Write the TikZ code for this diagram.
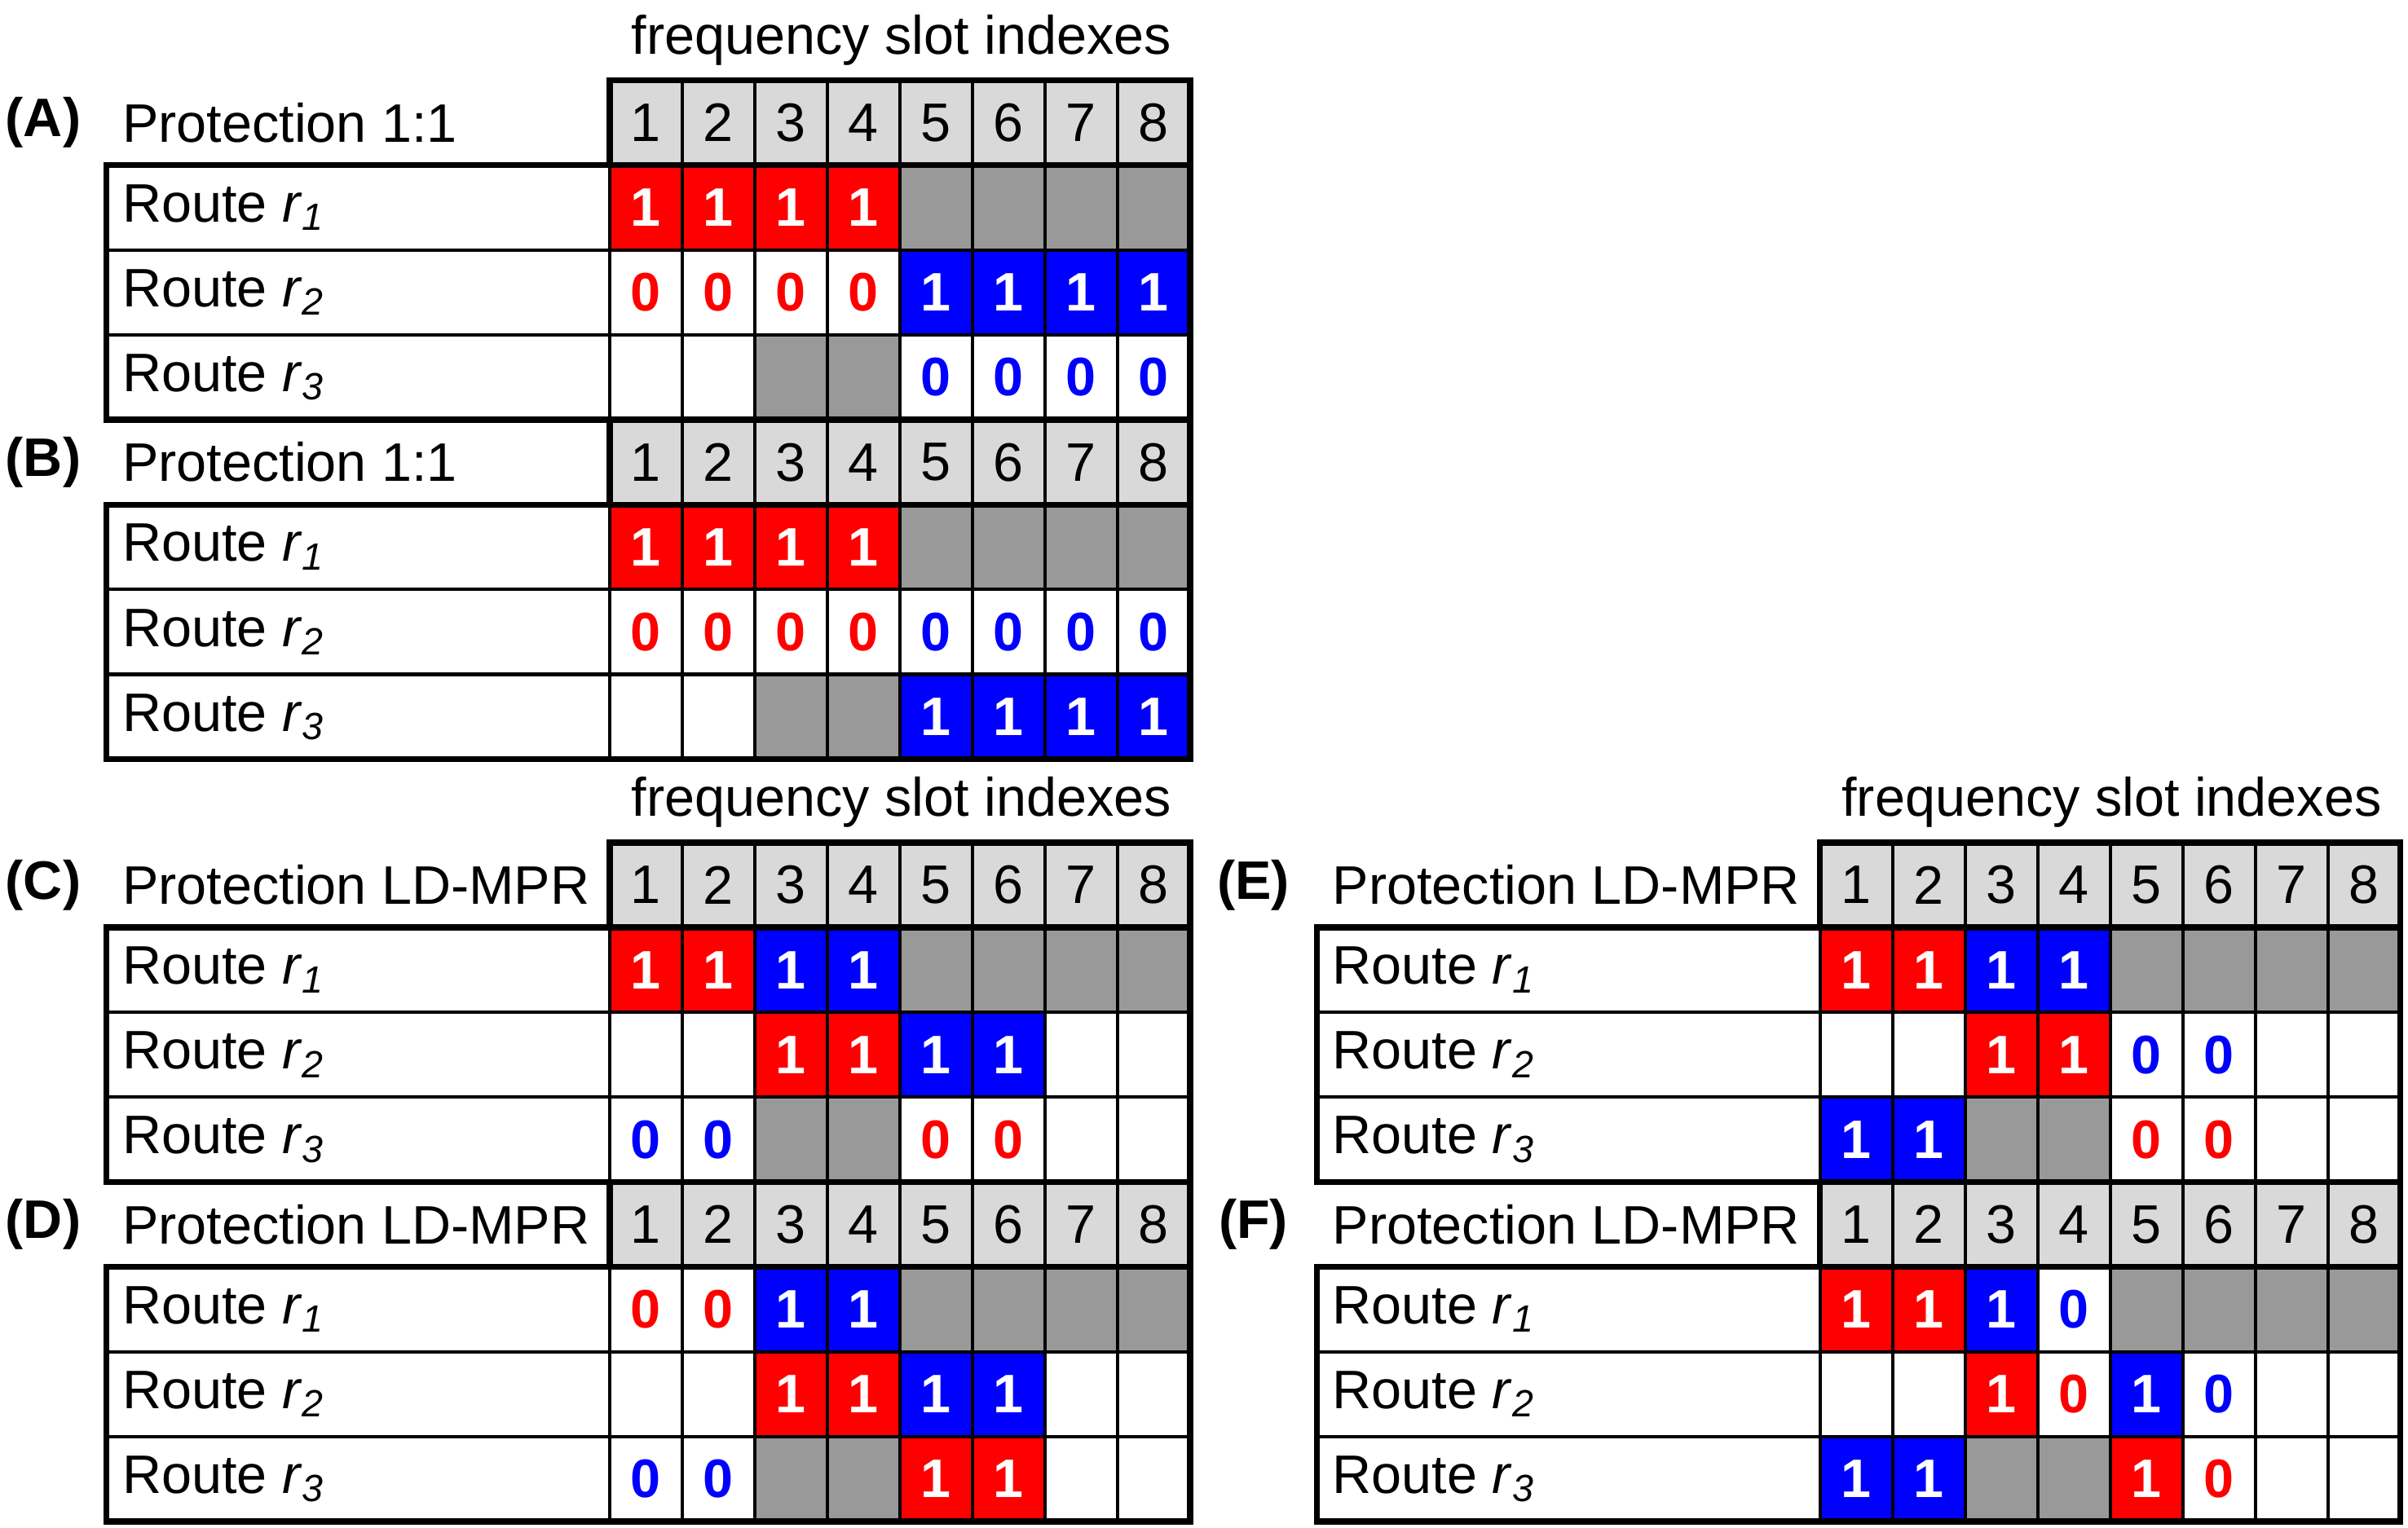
\documentclass[tikz,border=0pt]{standalone}
\usepackage{fontspec}
\setmainfont{Liberation Sans}
\begin{document}
\def\txtR{1}\def\txtB{1}\def\txtr{0}\def\txtb{0}\def\txtg{}\def\txtw{}
\tikzset{
 base/.style={draw=black,line width=1.2pt,minimum width=0.94cm,minimum height=1.1cm,inner sep=0pt,font=\fontsize{20}{24}\selectfont},
 hdr/.style={base,fill=black!15},
 cellR/.style={base,fill=red,text=white,font=\fontsize{20}{24}\selectfont\bfseries},
 cellB/.style={base,fill=blue,text=white,font=\fontsize{20}{24}\selectfont\bfseries},
 cellr/.style={base,fill=white,text=red,font=\fontsize{20}{24}\selectfont\bfseries},
 cellb/.style={base,fill=white,text=blue,font=\fontsize{20}{24}\selectfont\bfseries},
 cellg/.style={base,fill=black!40},
 cellw/.style={base,fill=white},
 labbox/.style={draw=black,line width=1.2pt,minimum width=6.52cm,minimum height=1.1cm,inner sep=0pt},
 txt/.style={font=\fontsize{20}{24}\selectfont,inner sep=0pt},
 lett/.style={font=\fontsize{20}{24}\selectfont\bfseries,inner sep=0pt},
 outline/.style={line width=2.2pt},
}
\newcommand\panel[7]{%
 \node[lett] (L#3) at (#1-41,#2+27.5) {(#3)};
 \node[txt,anchor=west] (T#3) at (#1+10,#2+27.5) {#4};
 \foreach \c in {1,...,8} {\node[hdr] (H#3\c) at ({#1+326+47*(\c-0.5)},#2+27.5) {\c};}
 \foreach \rowlist [count=\r] in {{#5},{#6},{#7}} {
   \node[labbox] (B#3\r) at ({#1+163},{#2+27.5+55*\r}) {};
   \node[txt,anchor=west] (R#3\r) at ({#1+10},{#2+27.5+55*\r}) {Route \textit{r}\textsubscript{\textit{\r}}};
   \foreach \k [count=\c] in \rowlist {
     \node[cell\k] (C#3\r\c) at ({#1+326+47*(\c-0.5)},{#2+27.5+55*\r}) {\csname txt\k\endcsname};
   }
 }
 \draw[outline] (#1+326,#2) rectangle (#1+702,#2+55);
 \draw[outline] (#1,#2+55) rectangle (#1+702,#2+220);
}
\begin{tikzpicture}[x=0.02cm,y=-0.02cm]
\useasboundingbox (0,0) rectangle (1560,990);
\node[txt] (F1) at (584,26) {frequency slot indexes};
\node[txt] (F2) at (584,520) {frequency slot indexes};
\node[txt] (F3) at (1368,520) {frequency slot indexes};
\panel{69}{52}{A}{Protection 1:1}{R,R,R,R,g,g,g,g}{r,r,r,r,B,B,B,B}{w,w,g,g,b,b,b,b}
\panel{69}{272}{B}{Protection 1:1}{R,R,R,R,g,g,g,g}{r,r,r,r,b,b,b,b}{w,w,g,g,B,B,B,B}
\panel{69}{546}{C}{Protection LD-MPR}{R,R,B,B,g,g,g,g}{w,w,R,R,B,B,w,w}{b,b,g,g,r,r,w,w}
\panel{69}{766}{D}{Protection LD-MPR}{r,r,B,B,g,g,g,g}{w,w,R,R,B,B,w,w}{b,b,g,g,R,R,w,w}
\panel{853}{546}{E}{Protection LD-MPR}{R,R,B,B,g,g,g,g}{w,w,R,R,b,b,w,w}{B,B,g,g,r,r,w,w}
\panel{853}{766}{F}{Protection LD-MPR}{R,R,B,b,g,g,g,g}{w,w,R,r,B,b,w,w}{B,B,g,g,R,r,w,w}
\end{tikzpicture}
\end{document}
